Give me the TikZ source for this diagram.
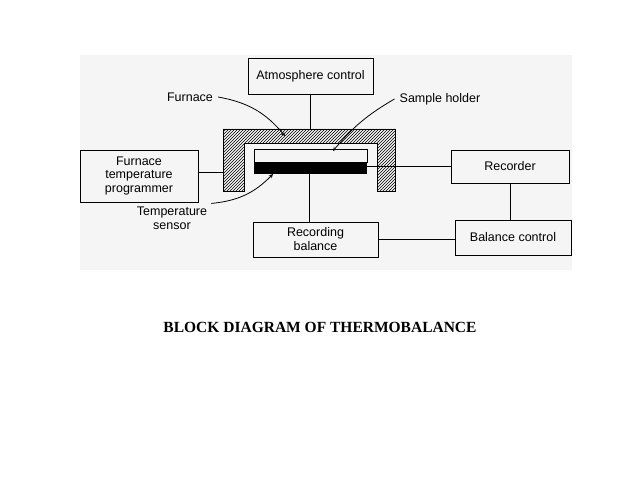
\documentclass[tikz,border=0pt]{standalone}
\usepackage{fontspec}
\setmainfont{Liberation Sans}
\newfontfamily\titlefont{Liberation Serif}
\usetikzlibrary{patterns}

\begin{document}
\begin{tikzpicture}[x=1pt,y=-1pt,font=\fontsize{12.5}{14}\selectfont]
\tikzstyle{every node}+=[inner sep=0pt]
\tikzstyle{blk}=[draw, thick, align=center]
\tikzstyle{lbl}=[align=center]
\tikzstyle{pointer}=[->, >=stealth, thick]
\useasboundingbox (0,0) rectangle (638,478);
\fill [black!4] (80,55) rectangle (572,270);
% blocks
\node [blk, minimum width=125, minimum height=36] (atmos) at (310.5,76) {Atmosphere control};
\node [blk, minimum width=118, minimum height=52] (prog) at (139,176) {Furnace\\temperature\\programmer};
\node [blk, minimum width=125, minimum height=35] (recbal) at (315.5,239.5) {Recording\\balance};
\node [blk, minimum width=118, minimum height=33] (rec) at (510,166.5) {Recorder};
\node [blk, minimum width=116, minimum height=35] (balctl) at (513,237.5) {Balance control};
% furnace
\draw [thick, pattern=north east lines] (223,191) -- (223,129) -- (395,129) -- (395,191)
  -- (377,191) -- (377,143) -- (244,143) -- (244,191) -- cycle;
\coordinate (ftop) at (310.5,129);
\coordinate (fwall) at (223,172);
\node [draw, thick, minimum width=113, minimum height=13] (holder) at (310.5,155.5) {};
\node [fill=black, minimum width=113, minimum height=12] (sensor) at (310.5,168) {};
% connectors
\draw [thick] (atmos) -- (ftop);
\draw [thick] (prog.east |- fwall) -- (fwall);
\draw [thick] (sensor.east |- rec.west) -- (rec.west);
\draw [thick] ([xshift=-1]sensor.south) -- ([xshift=-1]sensor.south |- recbal.north);
\draw [thick] (rec) -- (rec |- balctl.north);
\draw [thick] (recbal.east) -- (recbal.east -| balctl.west);
% labels
\node [lbl] (lfurn) at (190,97) {Furnace};
\node [lbl] (lhold) at (440,99) {Sample holder};
\node [lbl] (lsens) at (172,218) {Temperature\\sensor};
\coordinate (pfurn) at (285,136);
\coordinate (phold) at (333,151);
\coordinate (psens) at (273,174);
\draw [pointer] ([xshift=5]lfurn.east) to [bend left=20] (pfurn);
\draw [pointer] ([xshift=-5]lhold.west) to [bend right=10] (phold);
\draw [pointer] ([xshift=4,yshift=3]lsens.north east) to [bend right=20] (psens);
% caption
\node [font=\titlefont\bfseries\fontsize{15.5}{17}\selectfont] (title) at (320,327) {BLOCK DIAGRAM OF THERMOBALANCE};
\end{tikzpicture}
\end{document}
